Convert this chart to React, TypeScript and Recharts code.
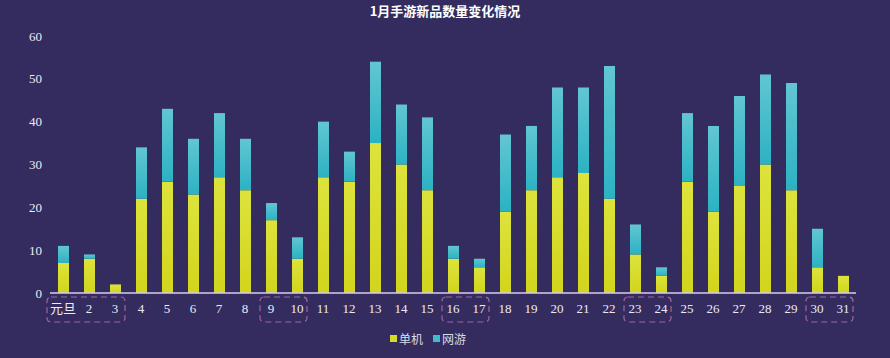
import React from "react";
import { BarChart, Bar, XAxis, YAxis, Legend } from "recharts";

// дни января
const days = [
  "元旦", "2", "3", "4", "5", "6", "7", "8", "9", "10",
  "11", "12", "13", "14", "15", "16", "17", "18", "19", "20",
  "21", "22", "23", "24", "25", "26", "27", "28", "29", "30", "31",
];
const singleGames = [
  7, 8, 2, 22, 26, 23, 27, 24, 17, 8,
  27, 26, 35, 30, 24, 8, 6, 19, 24, 27,
  28, 22, 9, 4, 26, 19, 25, 30, 24, 6, 4,
];
const onlineGames = [
  4, 1, 0, 12, 17, 13, 15, 12, 4, 5,
  13, 7, 19, 14, 17, 3, 2, 18, 15, 21,
  20, 31, 7, 2, 16, 20, 21, 21, 25, 9, 0,
];
const yTicks = [0, 10, 20, 30, 40, 50, 60];
// выходные / праздники: [первый индекс, последний индекс]
const holidayGroups = [
  [0, 2],
  [8, 9],
  [15, 16],
  [22, 23],
  [29, 30],
];

const data = days.map((d, i) => ({
  day: d,
  single: singleGames[i],
  online: onlineGames[i],
}));

const W = 890;
const H = 358;
const M = { top: 36, right: 34, left: 0, bottom: 10 };
const Y_W = 50;
const STEP = (W - M.left - M.right - Y_W) / days.length;

const YELLOW = "#d6dc26";
const CYAN = "#3dbccb";

const XTick = (props: any) => {
  const { x, y, payload } = props;
  const i = payload.index;
  const group = holidayGroups.find((g) => g[0] === i);
  const padL = /\D/.test(String(payload.value)) ? 16 : 11;
  const padR = 10;
  return (
    <g>
      {group && (
        <rect
          x={x - padL}
          y={y - 4}
          width={(group[1] - group[0]) * STEP + padL + padR}
          height={25}
          rx={4}
          fill="none"
          stroke="#a8619f"
          strokeWidth={1.2}
          strokeDasharray="6 4"
        />
      )}
      <text
        x={x}
        y={y + 12}
        textAnchor="middle"
        fill="#ecebf4"
        fontSize={13}
        fontFamily="'Liberation Serif', 'Noto Sans CJK SC', serif"
      >
        {payload.value}
      </text>
    </g>
  );
};

const legendItems = [
  { name: "单机", color: YELLOW },
  { name: "网游", color: CYAN },
];

const LegendContent = () => (
  <div
    style={{
      height: 20,
      display: "flex",
      justifyContent: "center",
      alignItems: "center",
      gap: 10,
      fontFamily: "'Noto Sans CJK SC', sans-serif",
      fontSize: 12,
      color: "#dcdbe8",
    }}
  >
    {legendItems.map((it) => (
      <span key={it.name} style={{ display: "flex", alignItems: "center" }}>
        <span
          style={{
            width: 7,
            height: 7,
            background: it.color,
            marginRight: 2,
            display: "inline-block",
          }}
        />
        {it.name}
      </span>
    ))}
  </div>
);

export default function App() {
  return (
    <div
      style={{
        position: "fixed",
        left: 0,
        top: 0,
        width: W,
        height: H,
        background: "#342c5e",
      }}
    >
      {/* заголовок */}
      <div
        style={{
          position: "absolute",
          top: 1,
          left: 0,
          width: W,
          textAlign: "center",
          color: "#ffffff",
          fontWeight: 700,
          fontSize: 13,
          fontFamily: "'Noto Sans CJK SC', sans-serif",
        }}
      >
        1月手游新品数量变化情况
      </div>
      <BarChart width={W} height={H} data={data} margin={M}>
        <defs>
          <linearGradient id="gSingle" x1="0" y1="0" x2="0" y2="1">
            <stop offset="0%" stopColor="#dde33c" />
            <stop offset="100%" stopColor="#d2d51c" />
          </linearGradient>
          <linearGradient id="gOnline" x1="0" y1="0" x2="0" y2="1">
            <stop offset="0%" stopColor="#62c6d2" />
            <stop offset="100%" stopColor="#2cb2c3" />
          </linearGradient>
        </defs>
        <XAxis
          dataKey="day"
          height={35}
          interval={0}
          tickLine={false}
          axisLine={{ stroke: "#d4cdf0", strokeWidth: 1.5 }}
          tick={<XTick />}
        />
        <YAxis
          width={Y_W}
          domain={[0, 60]}
          ticks={yTicks}
          axisLine={false}
          tickLine={false}
          tick={{
            fill: "#ecebf4",
            fontSize: 13,
            fontFamily: "'Liberation Serif', serif",
          }}
        />
        <Legend verticalAlign="bottom" height={20} content={<LegendContent />} />
        <Bar
          dataKey="single"
          name="单机"
          stackId="a"
          barSize={11}
          fill="url(#gSingle)"
          isAnimationActive={false}
        />
        <Bar
          dataKey="online"
          name="网游"
          stackId="a"
          barSize={11}
          fill="url(#gOnline)"
          isAnimationActive={false}
        />
      </BarChart>
    </div>
  );
}
